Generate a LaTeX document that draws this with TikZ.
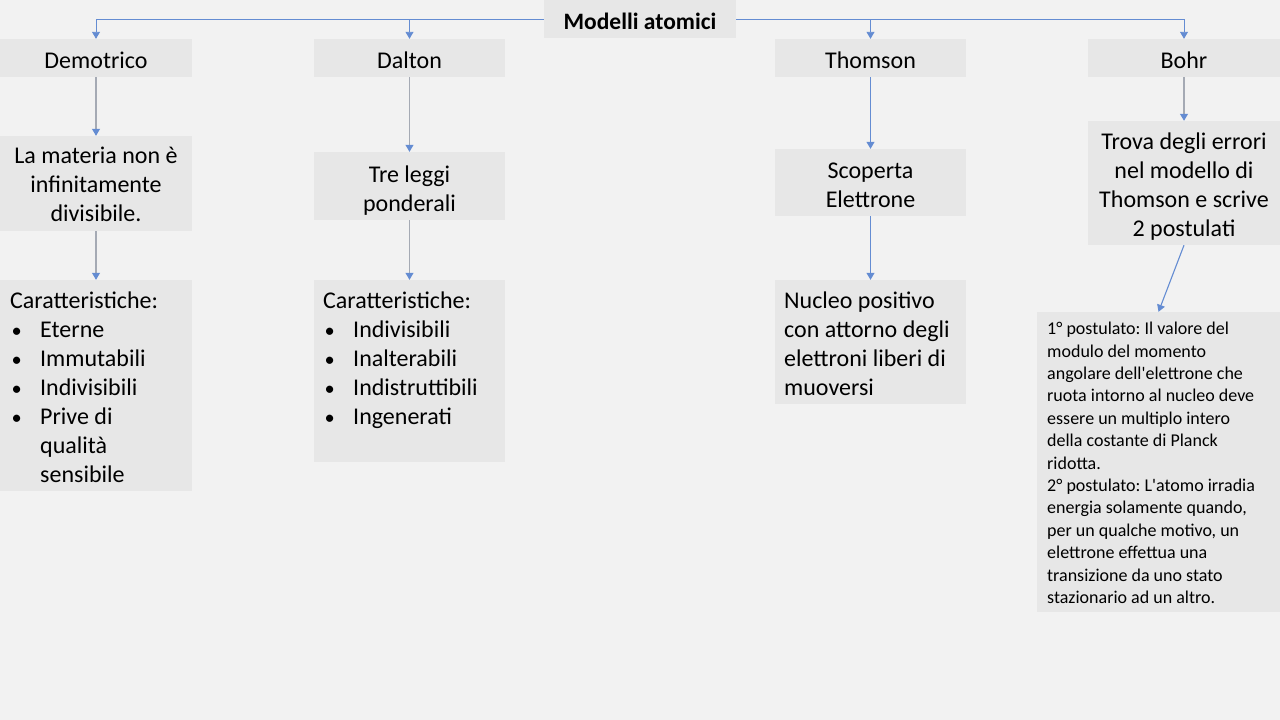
\documentclass[tikz,border=0pt]{standalone}
\usepackage{fontspec}
\setmainfont{Carlito}
\usetikzlibrary{arrows.meta}
\definecolor{bg}{HTML}{F2F2F2}
\definecolor{boxc}{HTML}{E7E7E7}
\definecolor{lblue}{RGB}{100,140,210}
\definecolor{lgray}{RGB}{165,170,180}
\newcommand{\bl}{\makebox[30pt][l]{\hspace{1.5pt}\scalebox{0.85}{•}}}
\newcommand{\ind}{\hspace*{30pt}}
\frenchspacing
\begin{document}
\begin{tikzpicture}[x=1pt,y=-1pt,
  box/.style={fill=boxc, inner sep=0pt, draw=none},
  lbl/.style={inner sep=0pt, align=center, font=\fontsize{24}{29}\selectfont},
  txt/.style={anchor=north west, inner sep=0pt, align=left, font=\fontsize{24}{29}\selectfont},
  small/.style={anchor=north west, inner sep=0pt, align=left, font=\fontsize{18}{22.4}\selectfont},
  conn/.style={draw=lblue, line width=1.1pt, -{Triangle[width=8pt,length=7pt]}},
  gconn/.style={draw=lgray, line width=1.1pt, -{Triangle[width=8pt,length=7pt,color=lblue,fill=lblue]}},
  ]
\fill[bg] (0,0) rectangle (1280,720);
\useasboundingbox (0,0) rectangle (1280,720);

% header
\node[box, minimum width=192pt, minimum height=38pt] (hdr) at (640,19) {};
\node[lbl, font=\fontsize{23.5}{28}\selectfont\bfseries] (hdrt) at (640,21.5) {Modelli atomici};

% first row
\node[box, minimum width=192pt, minimum height=38pt] (dem) at (96,58) {};
\node[box, minimum width=191pt, minimum height=38pt] (dal) at (409.5,58) {};
\node[box, minimum width=191pt, minimum height=38pt] (tho) at (870.5,58) {};
\node[box, minimum width=192pt, minimum height=38pt] (boh) at (1184,58) {};
\node[lbl] (demt) at (96,60) {Demotrico};
\node[lbl] (dalt) at (409.5,60) {Dalton};
\node[lbl] (thot) at (870.5,60) {Thomson};
\node[lbl] (boht) at (1184,60) {Bohr};

% second row
\node[box, minimum width=192pt, minimum height=95pt] (dem2) at (96,183.5) {};
\node[box, minimum width=191pt, minimum height=68pt] (dal2) at (409.5,186) {};
\node[box, minimum width=191pt, minimum height=67pt] (tho2) at (870.5,182.5) {};
\node[box, minimum width=192pt, minimum height=124pt] (boh2) at (1184,183) {};
\node[lbl] (dem2t) at (96,184.5) {La materia non è\\infinitamente\\divisibile.};
\node[lbl] (dal2t) at (409.5,191) {Tre leggi\\ponderali};
\node[lbl] (tho2t) at (870.5,185.5) {Scoperta\\Elettrone};
\node[lbl] (boh2t) at (1184,187) {Trova degli errori\\nel modello di\\Thomson e scrive\\2 postulati};

% third row boxes
\node[box, minimum width=192pt, minimum height=211pt] (dem3) at (96,385.5) {};
\node[box, minimum width=191pt, minimum height=182pt] (dal3) at (409.5,371) {};
\node[box, minimum width=191pt, minimum height=124pt] (tho3) at (870.5,342) {};
\node[box, minimum width=243pt, minimum height=300pt] (boh3) at (1158.5,462) {};

% third row texts
\node[txt] (dem3t) at (10,292) {Caratteristiche:\\\bl Eterne\\\bl Immutabili\\\bl Indivisibili\\\bl Prive di\\\ind qualità\\\ind sensibile};
\node[txt] (dal3t) at (323,292) {Caratteristiche:\\\bl Indivisibili\\\bl Inalterabili\\\bl Indistruttibili\\\bl Ingenerati};
\node[txt] (tho3t) at (784,292) {Nucleo positivo\\con attorno degli\\elettroni liberi di\\muoversi};
\node[small] (boh3t) at (1047,322) {1° postulato: Il valore del\\modulo del momento\\angolare dell\textquotesingle elettrone che\\ruota intorno al nucleo deve\\essere un multiplo intero\\della costante di Planck\\ridotta.\\2° postulato: L\textquotesingle atomo irradia\\energia solamente quando,\\per un qualche motivo, un\\elettrone effettua una\\transizione da uno stato\\stazionario ad un altro.};

% connectors from header
\draw[conn, line width=0.9pt] (hdr.west) -| (dem.north);
\draw[conn, line width=0.9pt] (dal.north |- hdr.west) -- (dal.north);
\draw[conn, line width=0.9pt] (hdr.east) -| (boh.north);
\draw[conn, line width=0.9pt] (tho.north |- hdr.east) -- (tho.north);

% vertical connectors
\draw[gconn] (dem.south) -- (dem2.north);
\draw[gconn] (dem2.south) -- (dem3.north);
\draw[gconn] (dal.south) -- (dal2.north);
\draw[gconn] (dal2.south) -- (dal3.north);
\draw[conn] (tho.south) -- (tho2.north);
\draw[conn] (tho2.south) -- (tho3.north);
\draw[gconn] (boh.south) -- (boh2.north);
\draw[conn] (boh2.south) -- (boh3.north);
\end{tikzpicture}
\end{document}
